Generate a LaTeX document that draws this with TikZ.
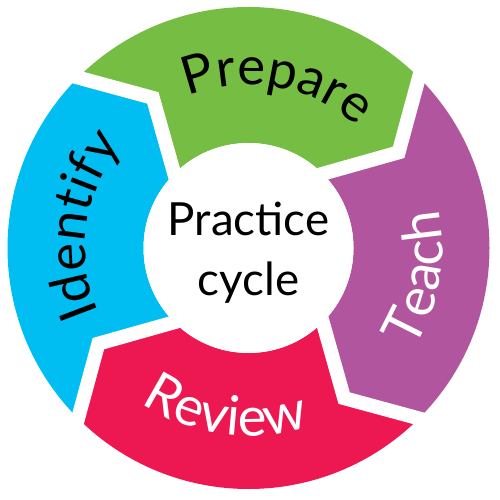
\documentclass[tikz,border=0pt]{standalone}
\usepackage{fontspec}
\setmainfont{Lato}
\usetikzlibrary{decorations.text,calc}
\definecolor{idblue}{RGB}{0,190,242}
\definecolor{prepgreen}{RGB}{118,189,67}
\definecolor{teachpurple}{RGB}{177,86,158}
\definecolor{revpink}{RGB}{237,24,81}

\begin{document}
\begin{tikzpicture}[gap/.style={draw=white, line width=0.28cm, line join=miter},
  arctext/.style={decorate, decoration={text along path, text align=center, text color=#1}},
  hub/.style={circle, fill=white, minimum size=4.2cm, inner sep=0pt, align=center, font=\fontsize{26}{34}\selectfont}]

\useasboundingbox (-4.97,-5.04) rectangle (5.03,4.96);

\fill[idblue] (225:4.82) arc (225:135:4.82) -- (122.5:3.56) -- (135:2.1) arc (135:225:2.1) -- (212.5:3.56) -- cycle;

\fill[prepgreen] (135:4.82) arc (135:45:4.82) -- (32.5:3.56) -- (45:2.1) arc (45:135:2.1) -- (122.5:3.56) -- cycle;

\fill[teachpurple] (45:4.82) arc (45:-45:4.82) -- (-57.5:3.56) -- (-45:2.1) arc (-45:45:2.1) -- (32.5:3.56) -- cycle;

\fill[revpink] (-45:4.82) arc (-45:-135:4.82) -- (-147.5:3.56) -- (-135:2.1) arc (-135:-45:2.1) -- (-57.5:3.56) -- cycle;

\draw[gap] ($(122.5:3.56)!1.3!(135:4.82)$) -- (122.5:3.56) -- ($(122.5:3.56)!1.3!(135:2.1)$);
\draw[gap] ($(32.5:3.56)!1.3!(45:4.82)$) -- (32.5:3.56) -- ($(32.5:3.56)!1.3!(45:2.1)$);
\draw[gap] ($(-57.5:3.56)!1.3!(-45:4.82)$) -- (-57.5:3.56) -- ($(-57.5:3.56)!1.3!(-45:2.1)$);
\draw[gap] ($(-147.5:3.56)!1.3!(-135:4.82)$) -- (-147.5:3.56) -- ($(-147.5:3.56)!1.3!(-135:2.1)$);

\fill[white] (0,0) circle (2.1);
\node[hub, fill=none] (centre) at (0,-0.1) {Practice\\cycle};

\path[arctext=black, decoration={text={|\fontsize{30}{36}\selectfont|Prepare}}] (125:3.26) arc (125:35:3.26);
\path[arctext=black, decoration={text={|\fontsize{30}{36}\selectfont|Identify}}] (217:3.26) arc (217:127:3.26);
\path[arctext=white, decoration={text={|\fontsize{31}{36}\selectfont|Review}}] (217:3.76) arc (217:307:3.76);
\path[arctext=white, decoration={text={|\fontsize{31}{36}\selectfont|Teach}}] (-55:3.88) arc (-55:35:3.88);

\end{tikzpicture}
\end{document}
